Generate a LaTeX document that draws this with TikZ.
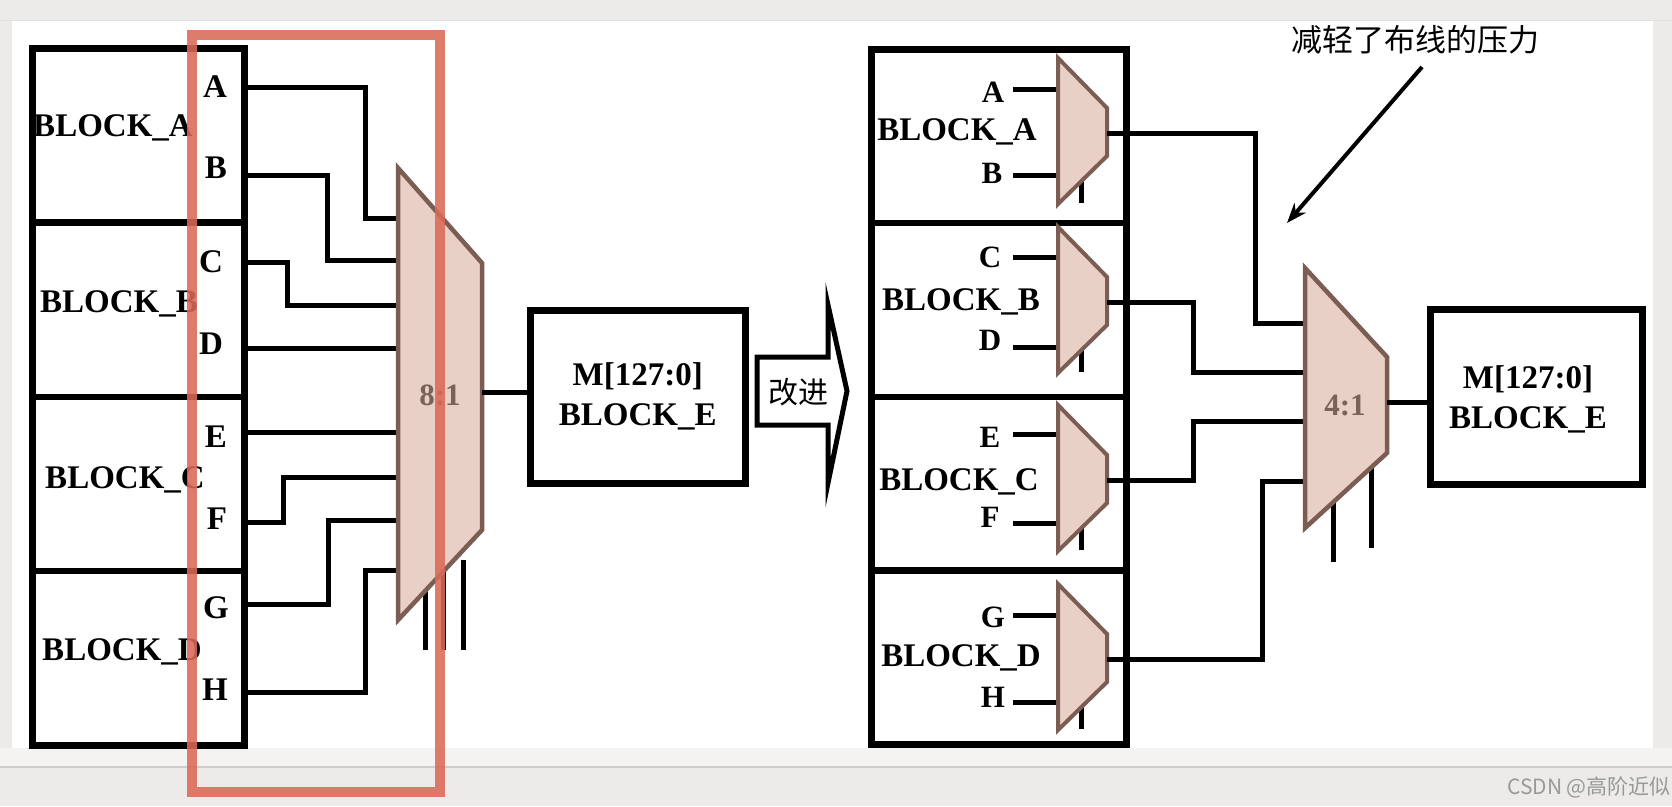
\documentclass[tikz,border=0pt]{standalone}
\usepackage{fontspec}
\setmainfont{Liberation Serif}
\newfontfamily\cjk{Noto Sans CJK SC}
\usetikzlibrary{arrows.meta}
\definecolor{muxfill}{HTML}{E8D0C6}
\definecolor{muxdraw}{HTML}{7B5D54}
\definecolor{muxtext}{HTML}{7A625A}
\definecolor{hlred}{HTML}{DA6A58}
\definecolor{frameg}{HTML}{ECEBE9}
\definecolor{bandg}{HTML}{F4F3F1}
\begin{document}
\begin{tikzpicture}[x=1pt,y=-1pt,
  wire/.style={line width=5pt, line join=miter},
  selwire/.style={line width=5pt},
  blockbox/.style={draw, line width=6.5pt, inner sep=0pt, anchor=north west},
  mux/.style={fill=muxfill, draw=muxdraw, line width=4.5pt, line join=miter},
  lbl/.style={font=\bfseries\fontsize{33}{40}\selectfont, inner sep=0pt},
  pinl/.style={font=\bfseries\fontsize{33}{40}\selectfont, inner sep=0pt},
  pinr/.style={font=\bfseries\fontsize{31}{36}\selectfont, inner sep=0pt},
  muxlbl/.style={font=\bfseries\fontsize{31}{36}\selectfont, text=muxtext, inner sep=0pt},
  cjklbl/.style={font=\cjk\fontsize{30}{34}\selectfont, inner sep=0pt}
]
\useasboundingbox (0,0) rectangle (1672,806);
% ---------- background frame ----------
\fill[frameg] (0,0) rectangle (1672,806);
\fill[white] (12,20) rectangle (1653,748);
\fill[bandg] (0,748) rectangle (1672,767);
\draw[black!12, line width=1pt] (0,20) -- (1672,20);
\draw[black!20, line width=2pt] (0,767) -- (1672,767);
\node[font=\cjk\fontsize{21}{24}\selectfont, text=black!40, inner sep=0pt] (wm) at (1589,787) {CSDN @高阶近似};

% ---------- LEFT: blocks A..D ----------
\foreach \n [count=\i from 0] in {A,B,C,D} {
  \node[blockbox, minimum width=212pt, minimum height=174.25pt] (L\n) at (29,{45+174.25*\i}) {};
}
\node[lbl] (LlabA) at (113,128) {BLOCK\_A};
\node[lbl] (LlabB) at (119,304) {BLOCK\_B};
\node[lbl] (LlabC) at (125,480) {BLOCK\_C};
\node[lbl] (LlabD) at (122,652) {BLOCK\_D};
\node[pinl] (LpA) at (215,87) {A};
\node[pinl] (LpB) at (216,168) {B};
\node[pinl] (LpC) at (211,262) {C};
\node[pinl] (LpD) at (211,344) {D};
\node[pinl] (LpE) at (216,437) {E};
\node[pinl] (LpF) at (217,519) {F};
\node[pinl] (LpG) at (216,608) {G};
\node[pinl] (LpH) at (215,690) {H};

% pin coordinates on block edge
\foreach \n/\y in {A/87,B/175,C/262,D/348,E/432,F/522,G/604,H/692} {
  \coordinate (Lo\n) at (241,\y);
}
% 8:1 mux geometry
\coordinate (m8tl) at (398,168);
\coordinate (m8tr) at (482,263);
\coordinate (m8br) at (482,530);
\coordinate (m8bl) at (398,620);
\coordinate (m8out) at (482,392);
\foreach \n/\y in {A/218,B/260,C/305,D/348,E/432,F/477,G/520,H/570} {
  \coordinate (m8i\n) at (398,\y);
}
% wires to 8:1 mux
\draw[wire] (LoA) -- (365,87) |- (m8iA);
\draw[wire] (LoB) -- (327,175) |- (m8iB);
\draw[wire] (LoC) -- (287,262) |- (m8iC);
\draw[wire] (LoD) -- (m8iD);
\draw[wire] (LoE) -- (m8iE);
\draw[wire] (LoF) -- (283,522) |- (m8iF);
\draw[wire] (LoG) -- (328,604) |- (m8iG);
\draw[wire] (LoH) -- (365,692) |- (m8iH);
% select lines
\foreach \x/\n in {425/1,443/2,463/3} {
  \coordinate (m8s\n) at (\x,560);
  \coordinate (m8e\n) at (\x,650);
  \draw[selwire] (m8s\n) -- (m8e\n);
}
\filldraw[mux] (m8tl) -- (m8tr) -- (m8br) -- (m8bl) -- cycle;
\node[muxlbl] (m8lab) at (440,395) {8:1};

% left BLOCK_E
\node[blockbox, minimum width=215pt, minimum height=173pt] (LE) at (527,307) {};
\node[lbl, align=center] (LEt) at (LE.center) {M[127:0]\\BLOCK\_E};
\draw[wire] (m8out) -- (m8out -| LE.west);

% ---------- improvement arrow ----------
\coordinate (ia1) at (757,357);
\coordinate (ia2) at (828,357);
\coordinate (ia3) at (828,305);
\coordinate (ia4) at (847,391);
\coordinate (ia5) at (828,483);
\coordinate (ia6) at (828,425);
\coordinate (ia7) at (757,425);
\filldraw[fill=white, draw=black, line width=5pt, line join=miter]
  (ia1) -- (ia2) -- (ia3) -- (ia4) -- (ia5) -- (ia6) -- (ia7) -- cycle;
\node[cjklbl] (iat) at (798,392) {改进};

% ---------- RIGHT: blocks A..D ----------
\foreach \n [count=\i from 0] in {A,B,C,D} {
  \node[blockbox, minimum width=255pt, minimum height=173.75pt] (R\n) at (868,{46+173.75*\i}) {};
}
\node[lbl] (RlabA) at (957,132) {BLOCK\_A};
\node[lbl] (RlabB) at (961,302) {BLOCK\_B};
\node[lbl] (RlabC) at (959,482) {BLOCK\_C};
\node[lbl] (RlabD) at (961,658) {BLOCK\_D};
\node[pinr] (RpA) at (993,92) {A};
\node[pinr] (RpB) at (992,173) {B};
\node[pinr] (RpC) at (990,257) {C};
\node[pinr] (RpD) at (990,340) {D};
\node[pinr] (RpE) at (990,437) {E};
\node[pinr] (RpF) at (990,517) {F};
\node[pinr] (RpG) at (993,617) {G};
\node[pinr] (RpH) at (993,697) {H};

% small 2:1 muxes
\foreach \k/\c/\ia/\ib in {a/131/89/175, b/300/257/347, c/478/434/523, d/657/615/702} {
  \coordinate (sm\k i1s) at (1013,\ia);
  \coordinate (sm\k i1) at (1058,\ia);
  \coordinate (sm\k i2s) at (1013,\ib);
  \coordinate (sm\k i2) at (1058,\ib);
  \coordinate (sm\k out) at (1107,{\c+2});
  \coordinate (sm\k ss) at (1081,{\c+45});
  \coordinate (sm\k se) at (1081,{\c+72});
  \draw[wire] (sm\k i1s) -- (sm\k i1);
  \draw[wire] (sm\k i2s) -- (sm\k i2);
  \draw[selwire] (sm\k ss) -- (sm\k se);
  \filldraw[mux, line width=4pt] (1058,{\c-73}) -- (1107,{\c-23}) -- (1107,{\c+25}) -- (1058,{\c+73}) -- cycle;
}

% 4:1 mux geometry
\coordinate (m4tl) at (1305,268);
\coordinate (m4tr) at (1387,357);
\coordinate (m4br) at (1387,453);
\coordinate (m4bl) at (1305,528);
\coordinate (m4out) at (1387,402);
\coordinate (m4i1) at (1305,323);
\coordinate (m4i2) at (1305,372);
\coordinate (m4i3) at (1305,421);
\coordinate (m4i4) at (1305,481);
\draw[wire] (smaout) -- (1255,133) |- (m4i1);
\draw[wire] (smbout) -- (1193,302) |- (m4i2);
\draw[wire] (smcout) -- (1193,480) |- (m4i3);
\draw[wire] (smdout) -- (1262,659) |- (m4i4);
\coordinate (m4s1) at (1333,490);
\coordinate (m4e1) at (1333,562);
\coordinate (m4s2) at (1371,460);
\coordinate (m4e2) at (1371,548);
\draw[selwire] (m4s1) -- (m4e1);
\draw[selwire] (m4s2) -- (m4e2);
\filldraw[mux] (m4tl) -- (m4tr) -- (m4br) -- (m4bl) -- cycle;
\node[muxlbl] (m4lab) at (1345,405) {4:1};

% right BLOCK_E
\node[blockbox, minimum width=212pt, minimum height=175pt] (RE) at (1427,306) {};
\node[lbl, align=center] (REt) at (1528,399) {M[127:0]\\BLOCK\_E};
\draw[wire] (m4out) -- (m4out -| RE.west);

% ---------- annotation ----------
\node[font=\cjk\fontsize{31}{34}\selectfont, inner sep=0pt] (note) at (1415,40) {减轻了布线的压力};
\coordinate (noteA) at (1422,67);
\coordinate (noteB) at (1287,223);
\draw[line width=4pt, -{Stealth[length=20pt, width=15pt]}] (noteA) -- (noteB);

% ---------- highlight box ----------
\node[draw=hlred, draw opacity=0.88, line width=10pt, inner sep=0pt, anchor=north west,
      minimum width=248pt, minimum height=757pt] (hl) at (187,30) {};
\end{tikzpicture}
\end{document}
